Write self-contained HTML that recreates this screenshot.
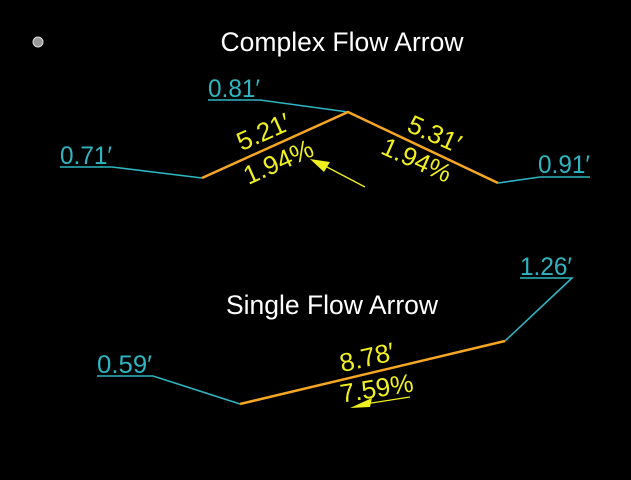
<!DOCTYPE html>
<html><head><style>html,body{margin:0;background:#000;width:631px;height:480px;overflow:hidden}</style></head>
<body>
<svg width="631" height="480" viewBox="0 0 631 480" xmlns="http://www.w3.org/2000/svg">
<rect width="631" height="480" fill="#000"/>
<circle cx="38" cy="42" r="5" fill="#999" stroke="#ddd" stroke-width="1"/>
<g font-family="Liberation Sans, sans-serif" fill="#fff" font-size="26.5" text-anchor="middle">
<text x="342" y="51">Complex Flow Arrow</text>
<text x="332" y="314">Single Flow Arrow</text>
</g>
<g stroke="#2fb5c0" stroke-width="1.6" fill="none">
<polyline points="60,167 112,167 202,178"/>
<polyline points="208,100 260,100 348,112"/>
<polyline points="498,183 540,177 590,177"/>
<polyline points="520,278 572,278 505,341"/>
<polyline points="97,376 153,376 240,404"/>
</g>
<g stroke="#f5a623" stroke-width="2.5" fill="none">
<polyline points="202,178 348,112 498,183"/>
<line x1="240" y1="404" x2="505" y2="341"/>
</g>
<g font-family="Liberation Sans Narrow, Liberation Sans, sans-serif" font-size="25" fill="#2fb5c0">
<text x="60" y="164" textLength="52" lengthAdjust="spacingAndGlyphs">0.71′</text>
<text x="208" y="97" textLength="52" lengthAdjust="spacingAndGlyphs">0.81′</text>
<text x="538" y="173" textLength="52" lengthAdjust="spacingAndGlyphs">0.91′</text>
<text x="520" y="275" textLength="52" lengthAdjust="spacingAndGlyphs">1.26′</text>
<text x="97" y="373" textLength="55" lengthAdjust="spacingAndGlyphs">0.59′</text>
</g>
<g font-family="Liberation Sans Narrow, Liberation Sans, sans-serif" font-size="26" fill="#f0f020" text-anchor="middle">
<text transform="translate(267,140) rotate(-24)">5.21′</text>
<text transform="translate(282,170) rotate(-24)">1.94%</text>
<text transform="translate(431,142) rotate(24)">5.31′</text>
<text transform="translate(413,168) rotate(24)">1.94%</text>
<text transform="translate(369,366) rotate(-13)">8.78′</text>
<text transform="translate(378,397) rotate(-9)">7.59%</text>
</g>
<g stroke="#f0f020" stroke-width="1.3" fill="#f0f020">
<line x1="365" y1="187" x2="325" y2="166"/>
<polygon points="310,159 330,162 324,172" stroke="none"/>
<line x1="410" y1="397" x2="365" y2="404"/>
<polygon points="350,408 372,398 370,407" stroke="none"/>
</g>
</svg>
</body></html>
